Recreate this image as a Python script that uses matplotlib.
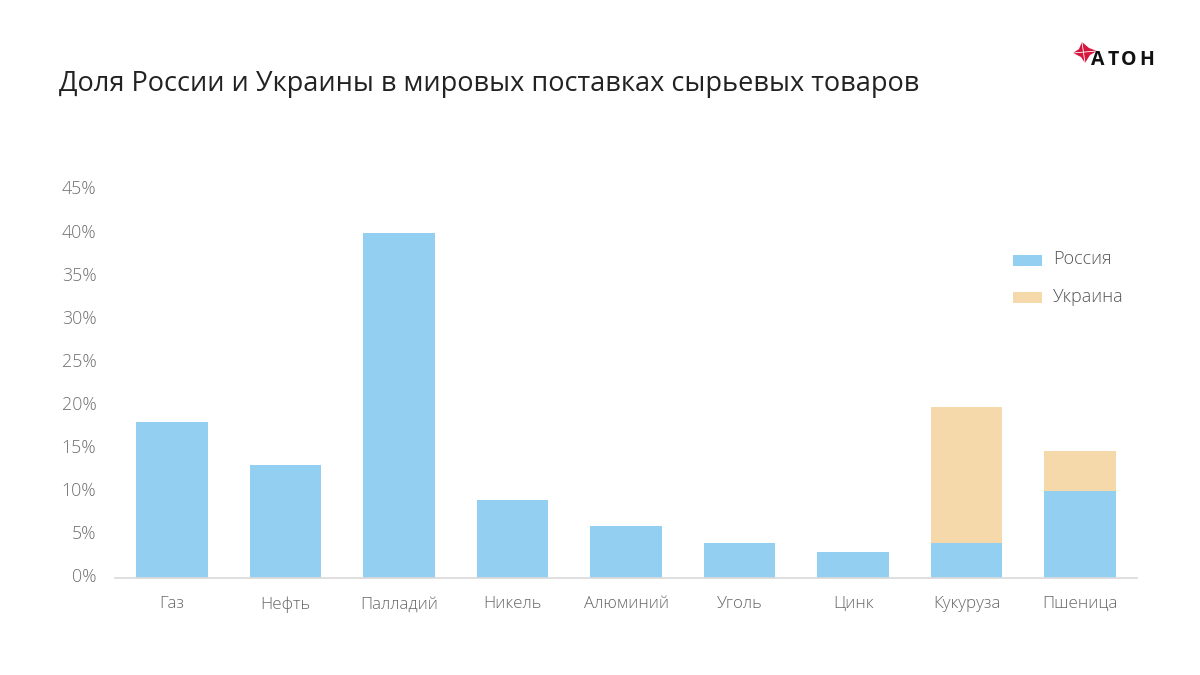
import matplotlib
matplotlib.use("Agg")
from matplotlib import pyplot as plt
from matplotlib.patches import Polygon, Rectangle
from matplotlib.transforms import ScaledTranslation

plt.rcParams['font.family'] = ['Open Sans', 'Noto Sans', 'DejaVu Sans']

#--- Data
categories = ['Газ', 'Нефть', 'Палладий', 'Никель', 'Алюминий', 'Уголь', 'Цинк', 'Кукуруза', 'Пшеница']
russia = [18, 13, 40, 9, 6, 4, 3, 4, 10]
ukraine = [0, 0, 0, 0, 0, 0, 0, 15.8, 4.7]
y_ticks = [0, 5, 10, 15, 20, 25, 30, 35, 40, 45]

color_russia = '#93CFF0'
color_ukraine = '#F5D9AA'
W, H = 1200, 675

fig = plt.figure(figsize=(12, 6.75), dpi=100, facecolor='white')
ax = fig.add_axes([115 / W, 1 - 577.5 / H, (1137 - 115) / W, 388 / H])

#--- Bars
x = list(range(len(categories)))
ax.bar(x, russia, width=0.63, color=color_russia, label='Россия')
ax.bar(x, ukraine, width=0.63, bottom=russia, color=color_ukraine, label='Украина')

ax.set_xlim(-0.5, 8.5)
ax.set_ylim(0, 45)
ax.set_xticks(x)
ax.set_xticklabels(categories, fontsize=12.2, fontweight='light', color='#666666')
ax.set_yticks(y_ticks)
ax.set_yticklabels([f'{v}%' for v in y_ticks], fontsize=12.8, fontweight='light', color='#707070')
ax.tick_params(axis='x', length=0, pad=13.5)
ax.tick_params(axis='y', length=0, pad=13.5)

#--- move the percent labels up a bit
shift_up = ScaledTranslation(0, 2 / 100, fig.dpi_scale_trans)
for label in ax.get_yticklabels():
    label.set_transform(label.get_transform() + shift_up)

for side in ['top', 'right', 'left']:
    ax.spines[side].set_visible(False)
ax.spines['bottom'].set_color('#D9D9D9')
ax.spines['bottom'].set_linewidth(1.2)

#--- Title
fig.text(59 / W, 1 - 84 / H, 'Доля России и Украины в мировых поставках сырьевых товаров',
         fontsize=19.55, color='#222222', va='center', ha='left')

#--- Legend
for y_pos, color, name in [(260, color_russia, 'Россия'), (297, color_ukraine, 'Украина')]:
    fig.add_artist(Rectangle((1013 / W, 1 - (y_pos + 5.5) / H), 29 / W, 11 / H,
                             transform=fig.transFigure, facecolor=color, edgecolor='none'))
    fig.text(1053 / W, 1 - (y_pos - 0.5) / H, name, fontsize=13, fontweight='light',
             color='#555555', va='center', ha='left')

#--- Logo
star_points = [(1082, 42), (1089, 48), (1097, 51), (1090, 55), (1085, 63), (1081, 57), (1073, 53), (1079, 49)]
fig.add_artist(Polygon([(px / W, 1 - py / H) for px, py in star_points],
                       transform=fig.transFigure, facecolor='#D5153C', edgecolor='none'))
fig.add_artist(plt.Line2D([1082 / W, 1085 / W], [1 - 42 / H, 1 - 63 / H], color='white', lw=0.6))
fig.add_artist(plt.Line2D([1073 / W, 1097 / W], [1 - 53 / H, 1 - 51 / H], color='white', lw=0.6))
for letter, letter_x in zip('АТОН', [1098, 1113, 1129, 1147]):
    fig.text(letter_x / W, 1 - 65 / H, letter, fontsize=14, fontweight='bold', color='#111111',
             va='baseline', ha='center')

fig.savefig('out.png', dpi=100)
